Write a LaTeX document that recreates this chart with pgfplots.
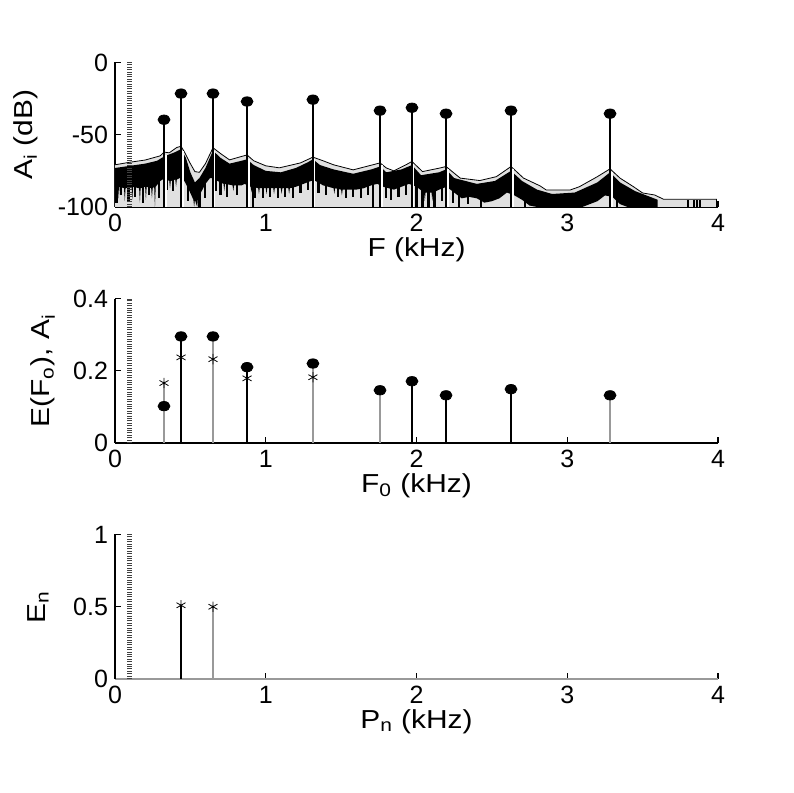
\documentclass[border=0pt]{standalone}
\usepackage{fontspec}
\setmainfont{Liberation Sans}
\newfontfamily\labfont[FakeStretch=1.15]{Liberation Sans}
\usepackage{pgfplots}
\pgfplotsset{compat=1.18}

\definecolor{stemgray}{gray}{0.6}
\definecolor{fillgray}{gray}{0.88}

\pgfplotsset{
  spec/.style={
    scale only axis, width=301.5pt, height=72.25pt,
    xmin=0, xmax=4,
    axis x line*=bottom, axis y line*=left,
    axis line style={-, line width=0.6pt},
    tick align=inside, major tick length=3pt,
    tick style={black, line width=0.6pt},
    xtick={0,1,2,3,4}, xticklabels={0,1,2,3,4},
    tick label style={font=\fontsize{12.5}{14}\selectfont},
    label style={font=\labfont\fontsize{13}{15}\selectfont},
    xlabel style={at={(axis description cs:0.5,-0.34)}, anchor=base},
    anchor=south west,
  },
  dotline/.style={black!75, line width=2.2pt, dash pattern=on 0.5pt off 0.7pt},
}

\begin{document}
\begin{tikzpicture}
\path[use as bounding box] (0,0) rectangle (397pt,396.5pt);

% --- spectrum
\begin{axis}[spec, at={(57.5pt,293pt)},
  ymin=-100, ymax=0, ytick={-100,-50,0}, yticklabels={-100,-50,0},
  xlabel={F (kHz)}, ylabel={A\textsubscript{i} (dB)},
  ylabel style={at={(axis description cs:-0.1376,0.5)}, anchor=base}]
% grey area under the envelope
\addplot[draw=none, fill=fillgray] coordinates {
 (0,-100)(0,-70.8)(0.1,-69)(0.2,-67.5)(0.3,-64.6)(0.325,-62)(0.36,-62.5)(0.41,-58.8)(0.438,-58)
 (0.464,-62.5)(0.50,-70)(0.53,-75.5)(0.56,-76)(0.60,-70)(0.65,-59)(0.70,-63)(0.76,-67.4)
 (0.84,-65)(0.876,-64)(0.92,-68)(1.0,-71.5)(1.09,-72.9)(1.23,-69.5)(1.313,-65.5)(1.38,-68)
 (1.45,-70.8)(1.58,-74.3)(1.71,-70.8)(1.758,-69.5)(1.80,-73)(1.85,-75)(1.93,-70.8)(1.97,-68.5)
 (2.04,-75.5)(2.156,-73)(2.196,-72)(2.29,-80)(2.42,-81.7)(2.53,-79)(2.627,-72)(2.71,-80)
 (2.82,-85.4)(2.86,-88.2)(3.02,-88.2)(3.08,-86)(3.2,-79)(3.284,-73.6)(3.35,-80)(3.44,-86)
 (3.5,-90.3)(3.58,-91.7)(3.64,-94.7)(3.99,-94.7)(3.99,-100)};
% dense black spectrum: upper bound left to right, lower bound right to left
\addplot[draw=none, fill=black] coordinates {
 (0,-73)(0.1,-71.5)(0.2,-70)(0.28,-68)(0.31,-66)(0.35,-64)(0.40,-62)(0.438,-60)(0.47,-66)
 (0.50,-76)(0.53,-83)(0.56,-80)(0.60,-73)(0.65,-61)(0.70,-66)(0.76,-70)(0.84,-68)(0.876,-67)
 (0.92,-71)(1.0,-75)(1.1,-76)(1.2,-73)(1.28,-69)(1.313,-67)(1.36,-71)(1.45,-74)(1.58,-77)
 (1.70,-74)(1.758,-72)(1.80,-76)(1.90,-74)(1.97,-71)(2.03,-78)(2.15,-76)(2.196,-74)(2.25,-80)
 (2.40,-84)(2.52,-82)(2.627,-75)(2.70,-82)(2.80,-88)(2.90,-91)(3.05,-90)(3.20,-83)(3.284,-76)
 (3.35,-83)(3.45,-89)(3.55,-93)(3.6,-95)
 (3.6,-100)(3.4,-100)(3.35,-98)(3.3,-93)(3.25,-92)(3.2,-96)(3.1,-100)(2.8,-100)(2.75,-99)
 (2.7,-95)(2.65,-92)(2.6,-90)(2.55,-94)(2.5,-96)(2.45,-97)(2.4,-94)(2.35,-93)(2.3,-94)(2.25,-90)
 (2.2,-86)(2.15,-88)(2.11,-90)(2.105,-96)(2.1,-90)(2.06,-90)(2.055,-96)(2.05,-90)(2.0,-86)
 (1.95,-84)(1.9,-86)(1.85,-88)(1.78,-86)(1.74,-84)(1.7,-85)(1.65,-87)(1.6,-88)(1.55,-88)
 (1.51,-88)(1.505,-92)(1.5,-88)(1.46,-87)(1.455,-91)(1.45,-87)(1.38,-85)(1.33,-82)(1.3,-82)
 (1.25,-84)(1.2,-86)(1.16,-87)(1.155,-91)(1.15,-87)(1.11,-87)(1.105,-91)(1.1,-87)(1.06,-87)
 (1.055,-91)(1.05,-87)(1.01,-87)(1.005,-91)(1.0,-87)(0.96,-87)(0.955,-91)(0.95,-87)(0.91,-86)
 (0.905,-90)(0.9,-86)(0.88,-85)(0.86,-84)(0.84,-85)(0.79,-85)(0.785,-89)(0.78,-85)(0.73,-84)
 (0.725,-89)(0.72,-84)(0.68,-82)(0.65,-80)(0.63,-80)(0.6,-84)(0.58,-88)(0.55,-94)(0.545,-100)
 (0.53,-95)(0.525,-100)(0.52,-95)(0.49,-88)(0.46,-82)(0.43,-80)(0.41,-81)(0.405,-86)(0.40,-81)
 (0.37,-82)(0.365,-87)(0.36,-82)(0.33,-80)(0.30,-82)(0.27,-86)(0.265,-100)(0.26,-86)(0.25,-87)
 (0.245,-94)(0.24,-87)(0.21,-86)(0.205,-95)(0.2,-86)(0.17,-87)(0.165,-97)(0.16,-87)(0.12,-86)
 (0.115,-95)(0.11,-86)(0.07,-87)(0.065,-96)(0.06,-87)(0.03,-86)(0.025,-94)(0.02,-86)(0,-86)};
% downward spikes of the spectrum
\addplot[black, line width=1.1pt, unbounded coords=jump] coordinates {
 (0.01,-85)(0.01,-97)(0.01,nan)(0.04,-85)(0.04,-92)(0.04,nan)(0.09,-85)(0.09,-96)(0.09,nan)
 (0.135,-85)(0.135,-93)(0.135,nan)(0.185,-85)(0.185,-97)(0.185,nan)(0.225,-85)(0.225,-92)(0.225,nan)
 (0.29,-80)(0.29,-94)(0.29,nan)(0.345,-79)(0.345,-88)(0.345,nan)(0.385,-79)(0.385,-89)(0.385,nan)
 (0.485,-85)(0.485,-96)(0.485,nan)(0.56,-90)(0.56,-100)(0.56,nan)(0.595,-82)(0.595,-94)(0.595,nan)
 (0.67,-80)(0.67,-89)(0.67,nan)(0.70,-81)(0.70,-92)(0.70,nan)(0.745,-83)(0.745,-93)(0.745,nan)
 (0.81,-84)(0.81,-92)(0.81,nan)(0.915,-85)(0.915,-100)(0.915,nan)(0.93,-85)(0.93,-94)(0.93,nan)
 (0.98,-86)(0.98,-94)(0.98,nan)(1.03,-86)(1.03,-93)(1.03,nan)(1.08,-86)(1.08,-94)(1.08,nan)
 (1.13,-86)(1.13,-93)(1.13,nan)(1.18,-85)(1.18,-94)(1.18,nan)(1.23,-83)(1.23,-90)(1.23,nan)
 (1.28,-81)(1.28,-88)(1.28,nan)(1.35,-82)(1.35,-90)(1.35,nan)(1.40,-84)(1.40,-92)(1.40,nan)
 (1.48,-86)(1.48,-93)(1.48,nan)(1.53,-87)(1.53,-94)(1.53,nan)(1.58,-87)(1.58,-93)(1.58,nan)
 (1.63,-86)(1.63,-94)(1.63,nan)(1.68,-85)(1.68,-92)(1.68,nan)(1.71,-84)(1.71,-100)(1.71,nan)
 (1.80,-85)(1.80,-94)(1.80,nan)(1.83,-86)(1.83,-95)(1.83,nan)(1.88,-86)(1.88,-93)(1.88,nan)
 (1.93,-84)(1.93,-92)(1.93,nan)(2.00,-85)(2.00,-100)(2.00,nan)(2.04,-86)(2.04,-100)(2.04,nan)
 (2.08,-89)(2.08,-100)(2.08,nan)(2.12,-89)(2.12,-100)(2.12,nan)(2.17,-87)(2.17,-96)(2.17,nan)
 (2.24,-88)(2.24,-97)(2.24,nan)(2.28,-92)(2.28,-100)(2.28,nan)(2.34,-92)(2.34,-98)(2.34,nan)
 (2.43,-95)(2.43,-100)(2.43,nan)(2.72,-94)(2.72,-100)(2.72,nan)(3.33,-95)(3.33,-100)};
% envelope
\addplot[black, line width=0.4pt] coordinates {
 (0,-70.8)(0.1,-69)(0.2,-67.5)(0.3,-64.6)(0.325,-62)(0.36,-62.5)(0.41,-58.8)(0.438,-58)
 (0.464,-62.5)(0.50,-70)(0.53,-75.5)(0.56,-76)(0.60,-70)(0.65,-59)(0.70,-63)(0.76,-67.4)
 (0.84,-65)(0.876,-64)(0.92,-68)(1.0,-71.5)(1.09,-72.9)(1.23,-69.5)(1.313,-65.5)(1.38,-68)
 (1.45,-70.8)(1.58,-74.3)(1.71,-70.8)(1.758,-69.5)(1.80,-73)(1.85,-75)(1.93,-70.8)(1.97,-68.5)
 (2.04,-75.5)(2.156,-73)(2.196,-72)(2.29,-80)(2.42,-81.7)(2.53,-79)(2.627,-72)(2.71,-80)
 (2.82,-85.4)(2.86,-88.2)(3.02,-88.2)(3.08,-86)(3.2,-79)(3.284,-73.6)(3.35,-80)(3.44,-86)
 (3.5,-90.3)(3.58,-91.7)(3.64,-94.7)(3.99,-94.7)(3.99,-100)};
% short spikes at the high end
\addplot[black, line width=0.7pt, unbounded coords=jump] coordinates {
 (3.80,-100)(3.80,-95.5)(3.80,nan)(3.84,-100)(3.84,-95.5)(3.84,nan)
 (3.86,-100)(3.86,-95.5)(3.86,nan)(3.88,-100)(3.88,-95.5)};
% white gaps beside the peak stems
\addplot[white, line width=0.7pt, unbounded coords=jump] coordinates {
 (0.337,-100)(0.337,-64)(0.337,nan)(0.450,-100)(0.450,-61)(0.450,nan)
 (0.662,-100)(0.662,-61)(0.662,nan)(0.888,-100)(0.888,-67)(0.888,nan)
 (1.325,-100)(1.325,-67)(1.325,nan)(1.770,-100)(1.770,-71)(1.770,nan)
 (1.982,-100)(1.982,-70)(1.982,nan)(2.208,-100)(2.208,-74)(2.208,nan)
 (2.639,-100)(2.639,-74)(2.639,nan)(3.296,-100)(3.296,-76)};
% peak stems
\addplot[black, line width=1.3pt, unbounded coords=jump] coordinates {
 (0.325,-100)(0.325,-39.6)(0.325,nan)(0.438,-100)(0.438,-21.5)(0.438,nan)
 (0.650,-100)(0.650,-21.5)(0.650,nan)(0.876,-100)(0.876,-27.0)(0.876,nan)
 (1.313,-100)(1.313,-25.7)(1.313,nan)(1.758,-100)(1.758,-33.3)(1.758,nan)
 (1.970,-100)(1.970,-31.3)(1.970,nan)(2.196,-100)(2.196,-35.4)(2.196,nan)
 (2.627,-100)(2.627,-33.3)(2.627,nan)(3.284,-100)(3.284,-35.4)};
% peak markers
\addplot[only marks, mark=*, mark size=2.6pt, mark options={xscale=1.15, yscale=0.9, fill=black, draw=black}] coordinates {
 (0.325,-39.6)(0.438,-21.5)(0.650,-21.5)(0.876,-27.0)(1.313,-25.7)
 (1.758,-33.3)(1.970,-31.3)(2.196,-35.4)(2.627,-33.3)(3.284,-35.4)};
\addplot[dotline] coordinates {(0.095,-100)(0.095,0)};
\end{axis}

% --- candidate F0
\begin{axis}[spec, at={(57.5pt,175pt)},
  ymin=0, ymax=0.4, ytick={0,0.2,0.4}, yticklabels={0,0.2,0.4},
  xlabel={F\textsubscript{0} (kHz)}, ylabel={E(F\textsubscript{o}), A\textsubscript{i}},
  ylabel style={at={(axis description cs:-0.1078,0.5)}, anchor=base}]
\addplot[ycomb, stemgray, line width=0.7pt] coordinates {
 (0.325,0.166)(0.650,0.295)(1.313,0.220)(1.758,0.146)(3.284,0.132)};
\addplot[ycomb, black, line width=0.7pt] coordinates {
 (0.438,0.295)(0.876,0.210)(1.970,0.171)(2.196,0.132)(2.627,0.149)};
\addplot[only marks, mark=asterisk, mark size=2.6pt, mark options={line width=0.4pt, black}] coordinates {
 (0.325,0.166)(0.438,0.237)(0.650,0.232)(0.876,0.179)(1.313,0.182)};
\addplot[only marks, mark=*, mark size=2.6pt, mark options={xscale=1.15, yscale=0.9, fill=black, draw=black}] coordinates {
 (0.325,0.102)(0.438,0.295)(0.650,0.295)(0.876,0.210)(1.313,0.220)
 (1.758,0.146)(1.970,0.171)(2.196,0.132)(2.627,0.149)(3.284,0.132)};
\addplot[dotline] coordinates {(0.095,0)(0.095,0.4)};
\end{axis}

% --- pitch candidates
\begin{axis}[spec, at={(57.5pt,57pt)},
  ymin=0, ymax=1, ytick={0,0.5,1}, yticklabels={0,0.5,1},
  x axis line style={stemgray},
  xlabel={P\textsubscript{n} (kHz)}, ylabel={E\textsubscript{n}},
  ylabel style={at={(axis description cs:-0.116,0.5)}, anchor=base}]
\addplot[ycomb, black, line width=0.7pt] coordinates {(0.438,0.51)};
\addplot[ycomb, stemgray, line width=0.7pt] coordinates {(0.650,0.50)};
\addplot[only marks, mark=asterisk, mark size=2.6pt, mark options={line width=0.4pt, black}] coordinates {
 (0.438,0.51)(0.650,0.50)};
\addplot[dotline] coordinates {(0.095,0)(0.095,1)};
\end{axis}
\end{tikzpicture}
\end{document}
